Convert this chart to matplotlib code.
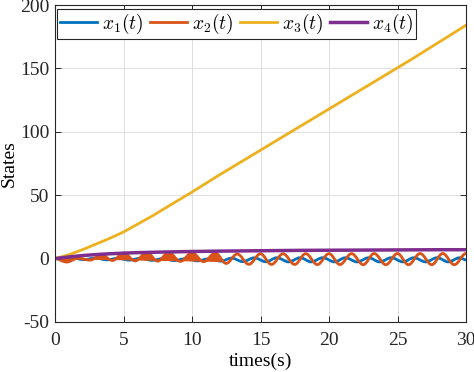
import matplotlib
matplotlib.use("Agg")
import matplotlib.pyplot as plt
from matplotlib.path import Path
from matplotlib.patches import PathPatch

plt.rcParams['font.family'] = ['Liberation Serif', 'DejaVu Serif']
plt.rcParams['mathtext.fontset'] = 'cm'
plt.rcParams['axes.unicode_minus'] = False

# ---- data ----
# x3(t): steadily growing state
x3_t = [0, 1, 2, 3, 4, 5, 6, 7, 8, 9, 10, 12, 14, 16, 18, 20, 22, 24, 26, 28, 30]
x3_v = [0, 3, 7, 11.5, 16, 21, 27, 33, 39.5, 46, 52.5, 66, 79, 92, 105, 118, 131, 144, 157, 170.5, 184]

# x4(t): slowly rising state
x4_t = [0, 1, 2, 3, 4, 5, 6, 8, 10, 12, 14, 16, 18, 20, 22, 24, 26, 28, 30]
x4_v = [0, 1.3, 2.4, 3.2, 3.8, 4.3, 4.7, 5.2, 5.6, 5.9, 6.1, 6.3, 6.5, 6.6, 6.7, 6.8, 6.9, 7.0, 7.0]

# x2(t): oscillating state (extrema)
x2_t = [0, 0.85, 1.7, 2.55, 3.4, 4.2, 5.0, 5.85, 6.7, 7.5, 8.3, 9.15, 10.0, 10.85,
        11.7, 12.5, 13.3, 14.15, 15.0, 15.8, 16.65, 17.5, 18.3, 19.15, 20.0, 20.8,
        21.65, 22.5, 23.3, 24.15, 25.0, 25.8, 26.65, 27.5, 28.3, 29.15, 30.0]
x2_v = [0, -2.7, 0.3, -1.2, 2.8, -1.5, 4.4, -1.8, 4.8, -2.0, 4.8, -2.2, 4.6, -2.4,
        4.4, -3.8, 3.6, -4.5, 3.8, -4.6, 3.8, -4.6, 3.9, -4.7, 3.9, -4.7,
        3.9, -4.8, 4.0, -4.8, 4.0, -4.8, 4.0, -4.8, 4.0, -4.8, 4.0]
# base line under the filled humps of x2 (early chattering part)
x2_base_t = [0, 12.1]
x2_base_v = [0.0, -2.2]
fill_last_index = 14   # last extremum of x2 inside the filled part (t = 11.7)

# x1(t): smaller oscillating state (extrema)
x1_t = [0, 1.25, 2.1, 2.95, 3.8, 4.6, 5.4, 6.25, 7.1, 7.9, 8.7, 9.55, 10.4, 11.25,
        12.1, 12.9, 13.7, 14.55, 15.4, 16.2, 17.05, 17.9, 18.7, 19.55, 20.4, 21.2,
        22.05, 22.9, 23.7, 24.55, 25.4, 26.2, 27.05, 27.9, 28.7, 29.55, 30.0]
x1_v = [0, 0.5, -0.8, 0.4, -1.0, 0.3, -1.2, 0.2, -1.4, 0.1, -1.6, 0.0, -1.8, -0.1,
        -2.0, 0.4, -2.4, 0.6, -2.5, 0.7, -2.6, 0.7, -2.6, 0.7, -2.6, 0.7,
        -2.6, 0.7, -2.6, 0.7, -2.6, 0.7, -2.6, 0.7, -2.6, 0.7, -1.0]

labels = [r'$x_1(t)$', r'$x_2(t)$', r'$x_3(t)$', r'$x_4(t)$']
colors = ['#0072BD', '#D95319', '#EDB120', '#7E2F8E']

x_ticks = [0, 5, 10, 15, 20, 25, 30]
y_ticks = [-50, 0, 50, 100, 150, 200]


def smooth_verts(ts, vs, k=0.364):
    """Smooth curve through extrema (cubic Bezier with flat tangents at the points)."""
    verts = [(ts[0], vs[0])]
    codes = [Path.MOVETO]
    for i in range(len(ts) - 1):
        h = ts[i + 1] - ts[i]
        verts += [(ts[i] + k * h, vs[i]), (ts[i + 1] - k * h, vs[i + 1]),
                  (ts[i + 1], vs[i + 1])]
        codes += [Path.CURVE4] * 3
    return verts, codes


# ---- figure ----
fig = plt.figure(figsize=(4.74, 3.72), dpi=100)
ax = fig.add_axes([55/474, 1-322/372, 411/474, 317/372])

# x1
v, c = smooth_verts(x1_t, x1_v)
ax.add_patch(PathPatch(Path(v, c), fill=False, edgecolor=colors[0], lw=2.0,
                       capstyle='round', zorder=2))
# x2 filled early part
v, c = smooth_verts(x2_t[:fill_last_index + 1], x2_v[:fill_last_index + 1])
v = v + [(x2_base_t[1], x2_base_v[1]), (x2_base_t[0], x2_base_v[0]), (0, 0)]
c = c + [Path.LINETO, Path.LINETO, Path.CLOSEPOLY]
ax.add_patch(PathPatch(Path(v, c), facecolor=colors[1], edgecolor=colors[1],
                       lw=0.8, zorder=2.1))
# x2 line
v, c = smooth_verts(x2_t, x2_v)
ax.add_patch(PathPatch(Path(v, c), fill=False, edgecolor=colors[1], lw=2.0,
                       capstyle='round', zorder=2.2))
l3, = ax.plot(x3_t, x3_v, color=colors[2], lw=2.0, zorder=2.3)
l4, = ax.plot(x4_t, x4_v, color=colors[3], lw=2.5, zorder=2.4)

# legend proxies
l1, = ax.plot([], [], color=colors[0], lw=2.0)
l2, = ax.plot([], [], color=colors[1], lw=2.0)

ax.set_xlim(0, 30)
ax.set_ylim(-50, 200)
ax.set_xticks(x_ticks)
ax.set_yticks(y_ticks)
ax.grid(True, color='#dedede', lw=0.7)
ax.set_axisbelow(True)
ax.tick_params(direction='in', top=True, right=True, length=4, width=0.7,
               labelsize=14, colors='#262626')
ax.tick_params(axis='x', pad=7)
ax.tick_params(axis='y', pad=4)
for s in ax.spines.values():
    s.set_color('#262626')
    s.set_linewidth(0.8)
ax.set_xlabel('times(s)', fontsize=14, labelpad=3)
ax.set_ylabel('States', fontsize=14, labelpad=2)

leg = ax.legend([l1, l2, l3, l4], labels, ncol=4, loc='upper left',
                bbox_to_anchor=(0.005, 0.987), borderaxespad=0, fontsize=14,
                fancybox=False, edgecolor='#262626', framealpha=1,
                handlelength=1.9, handletextpad=0.25, columnspacing=0.35,
                borderpad=0.15)
leg.get_frame().set_linewidth(0.8)

fig.savefig('out.png', dpi=100)
